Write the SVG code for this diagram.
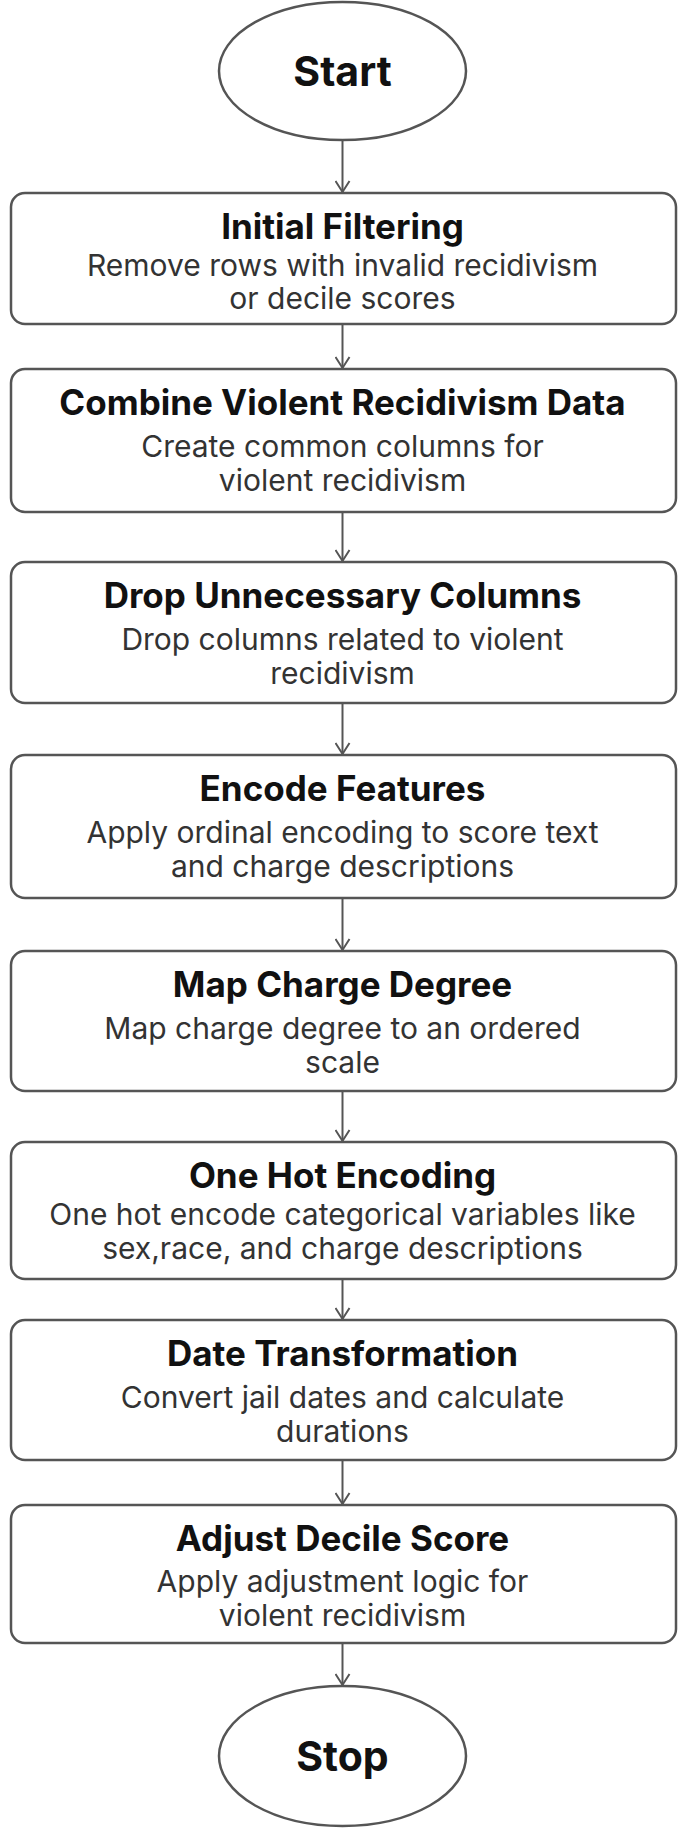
<svg xmlns="http://www.w3.org/2000/svg" width="685" height="1836" viewBox="0 0 685 1836">
<style>
.b{fill:#fff;stroke:#555;stroke-width:2.5}
.t{font-family:Inter,"Noto Sans",sans-serif;font-weight:700;font-size:35px;fill:#111;text-anchor:middle}
.s{font-family:Inter,"Noto Sans",sans-serif;font-size:30px;fill:#333;text-anchor:middle}
.c{stroke:#555;stroke-width:2;fill:none}
</style>
<defs><marker id="a" markerWidth="16" markerHeight="16" refX="12" refY="8" orient="auto" markerUnits="userSpaceOnUse"><path d="M1,1 L12,8 L1,15" fill="none" stroke="#555" stroke-width="2"/></marker></defs>
<rect width="685" height="1836" fill="#fff"/>
<g id="connectors">
<line class="c" x1="342.5" y1="141" x2="342.5" y2="192" marker-end="url(#a)"/>
<line class="c" x1="342.5" y1="324" x2="342.5" y2="368" marker-end="url(#a)"/>
<line class="c" x1="342.5" y1="512" x2="342.5" y2="561" marker-end="url(#a)"/>
<line class="c" x1="342.5" y1="703" x2="342.5" y2="754" marker-end="url(#a)"/>
<line class="c" x1="342.5" y1="898" x2="342.5" y2="950" marker-end="url(#a)"/>
<line class="c" x1="342.5" y1="1091" x2="342.5" y2="1141" marker-end="url(#a)"/>
<line class="c" x1="342.5" y1="1279" x2="342.5" y2="1319" marker-end="url(#a)"/>
<line class="c" x1="342.5" y1="1460" x2="342.5" y2="1504" marker-end="url(#a)"/>
<line class="c" x1="342.5" y1="1643" x2="342.5" y2="1685" marker-end="url(#a)"/>
</g>
<g id="start"><ellipse class="b" cx="342.5" cy="71" rx="123.5" ry="69"/><text class="t" x="342.5" y="86" style="font-size:41px">Start</text></g>
<g id="n1"><rect class="b" x="11" y="193" width="665" height="131" rx="14"/><text class="t" x="342.5" y="239">Initial Filtering</text><text class="s" x="342.5" y="276">Remove rows with invalid recidivism</text><text class="s" x="342.5" y="309">or decile scores</text></g>
<g id="n2"><rect class="b" x="11" y="369" width="665" height="143" rx="14"/><text class="t" x="342.5" y="415">Combine Violent Recidivism Data</text><text class="s" x="342.5" y="457">Create common columns for</text><text class="s" x="342.5" y="491">violent recidivism</text></g>
<g id="n3"><rect class="b" x="11" y="562" width="665" height="141" rx="14"/><text class="t" x="342.5" y="608">Drop Unnecessary Columns</text><text class="s" x="342.5" y="650">Drop columns related to violent</text><text class="s" x="342.5" y="684">recidivism</text></g>
<g id="n4"><rect class="b" x="11" y="755" width="665" height="143" rx="14"/><text class="t" x="342.5" y="801">Encode Features</text><text class="s" x="342.5" y="843">Apply ordinal encoding to score text</text><text class="s" x="342.5" y="877">and charge descriptions</text></g>
<g id="n5"><rect class="b" x="11" y="951" width="665" height="140" rx="14"/><text class="t" x="342.5" y="997">Map Charge Degree</text><text class="s" x="342.5" y="1039">Map charge degree to an ordered</text><text class="s" x="342.5" y="1073">scale</text></g>
<g id="n6"><rect class="b" x="11" y="1142" width="665" height="137" rx="14"/><text class="t" x="342.5" y="1188">One Hot Encoding</text><text class="s" x="342.5" y="1225">One hot encode categorical variables like</text><text class="s" x="342.5" y="1259">sex,race, and charge descriptions</text></g>
<g id="n7"><rect class="b" x="11" y="1320" width="665" height="140" rx="14"/><text class="t" x="342.5" y="1366">Date Transformation</text><text class="s" x="342.5" y="1408">Convert jail dates and calculate</text><text class="s" x="342.5" y="1442">durations</text></g>
<g id="n8"><rect class="b" x="11" y="1505" width="665" height="138" rx="14"/><text class="t" x="342.5" y="1551">Adjust Decile Score</text><text class="s" x="342.5" y="1592">Apply adjustment logic for</text><text class="s" x="342.5" y="1626">violent recidivism</text></g>
<g id="stop"><ellipse class="b" cx="342.5" cy="1756" rx="123.5" ry="70"/><text class="t" x="342.5" y="1771" style="font-size:41px">Stop</text></g>
</svg>
